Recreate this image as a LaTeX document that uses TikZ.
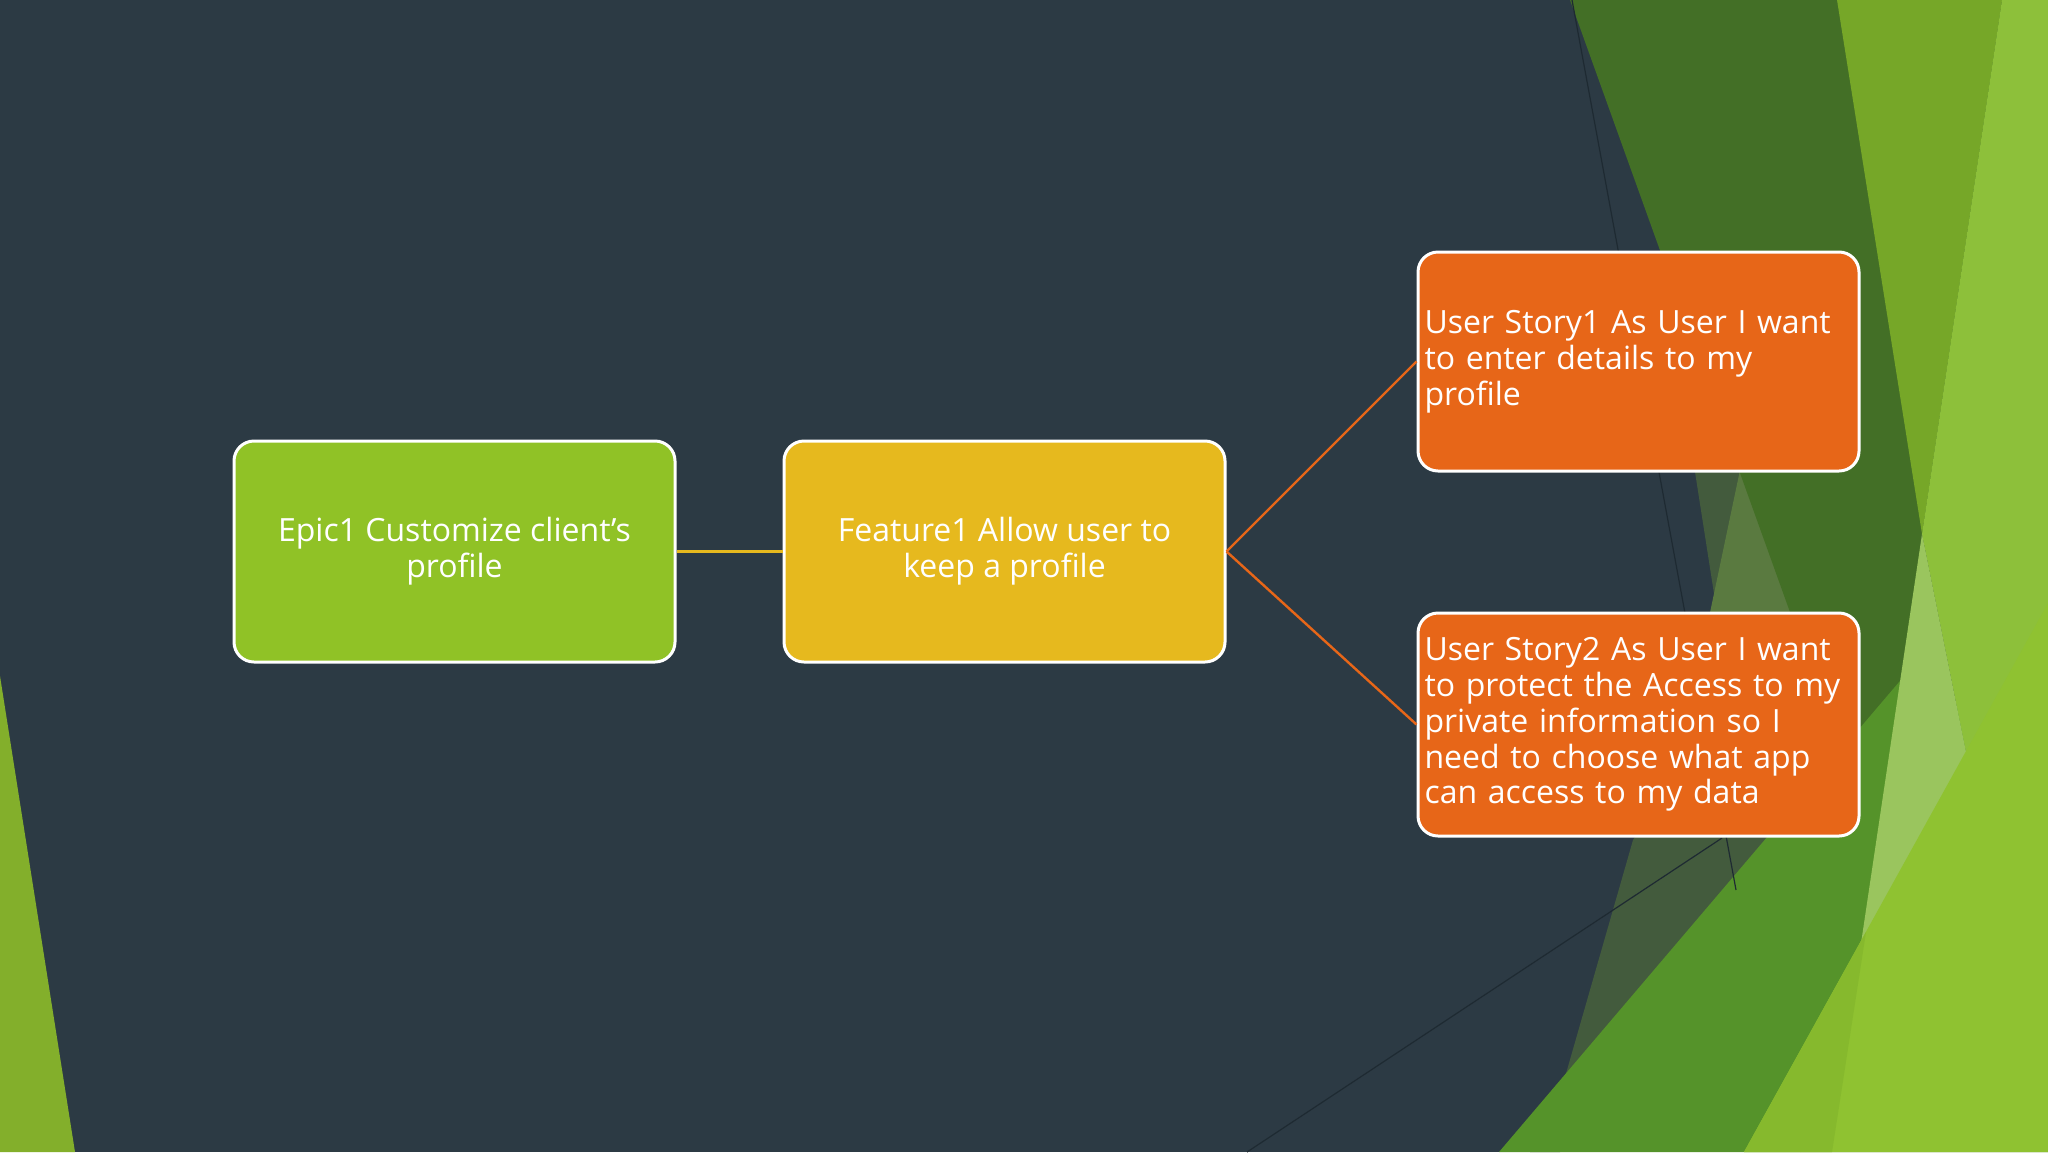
\documentclass[tikz,border=0pt]{standalone}
\usepackage{fontspec}
\setmainfont{Open Sans}
\definecolor{slate}{HTML}{2C3A44}
\definecolor{dkgreen}{HTML}{436F26}
\definecolor{olive}{HTML}{435B3D}
\definecolor{liteolive}{HTML}{5A7A40}
\definecolor{midgreen}{HTML}{76A728}
\definecolor{ltgreen}{HTML}{8DC03A}
\definecolor{whgreen}{HTML}{9AC55E}
\definecolor{brgreen}{HTML}{55932A}
\definecolor{tgreen}{HTML}{8FC231}
\definecolor{tgreenb}{HTML}{86B92D}
\definecolor{leftgreen}{HTML}{83AF2B}
\definecolor{thinline}{HTML}{1E2A32}
\definecolor{epicfill}{HTML}{90C226}
\definecolor{featfill}{HTML}{E6B91E}
\definecolor{storyfill}{HTML}{E76618}
\tikzset{
  edgeline/.style={draw=thinline, line width=0.6pt},
  card/.style={rectangle, rounded corners=10pt, draw=white, line width=1.5pt,
    text=white, font=\fontsize{16}{17.9}\selectfont, inner sep=0pt},
  centercard/.style={card, minimum width=220.5pt, minimum height=110.5pt, align=center},
  storycard/.style={card, text width=214pt, inner xsep=3.25pt, minimum height=109.5pt, align=left},
  yellowlink/.style={draw=featfill, line width=1.4pt},
  orangelink/.style={draw=storyfill, line width=1.2pt}
}
\begin{document}
\begin{tikzpicture}[x=0.5pt,y=-0.5pt]
\useasboundingbox (0,0) rectangle (2048,1152);
% background
\fill[slate] (0,0) rectangle (2048,1152);
\fill[leftgreen] (0,676) -- (75,1152) -- (0,1152) -- cycle;
\fill[olive] (1690,440) -- (1760,440) -- (1800,700) -- (1790,840) -- (1560,1152) -- (1530,1152)
  -- (1565,1077) -- (1633,840) -- (1725,700) -- (1717,613) -- cycle;
\fill[liteolive] (1740,470) -- (1810,660) -- (1700,660) -- cycle;
\fill[dkgreen] (1570,0) -- (2048,0) -- (2048,1152) -- (1800,1152) -- (1800,640) -- cycle;
\fill[midgreen] (1837,0) -- (2002,0) -- (1922,534) -- cycle;
\fill[brgreen] (1499,1152) -- (1905,675) -- (1990,720) -- (1800,1152) -- cycle;
\fill[ltgreen] (2002,0) -- (2048,0) -- (2048,720) -- (1966,752) -- (1922,534) -- cycle;
\fill[whgreen] (1922,534) -- (1966,752) -- (1990,762) -- (1860,950) -- cycle;
\fill[tgreen] (2048,603) -- (2048,1152) -- (1744,1152) -- cycle;
\fill[tgreenb] (1866,932) -- (1832,1152) -- (1744,1152) -- cycle;
\draw[edgeline] (1572,0) -- (1736,890);
\draw[edgeline] (1247,1152) -- (1722,838);
% cards
\node[centercard, fill=epicfill] (epic) at (454.5,551.5) {Epic1 Customize client’s\\profile};
\node[centercard, fill=featfill] (feat) at (1004.5,551.5) {Feature1 Allow user to\\keep a profile};
\node[storycard, fill=storyfill] (us1) at (1638.5,361.5) {User Story1 As User I want\\to enter details to my\\profile};
\node[storycard, fill=storyfill, minimum height=111.5pt] (us2) at (1638.5,724.5) {User Story2 As User I want\\to protect the Access to my\\private information so I\\need to choose what app\\can access to my data};
% connectors
\draw[yellowlink] (epic.east) -- (feat.west);
\draw[orangelink] (feat.east) -- (us1.west);
\draw[orangelink] (feat.east) -- (us2.west);
\end{tikzpicture}
\end{document}
